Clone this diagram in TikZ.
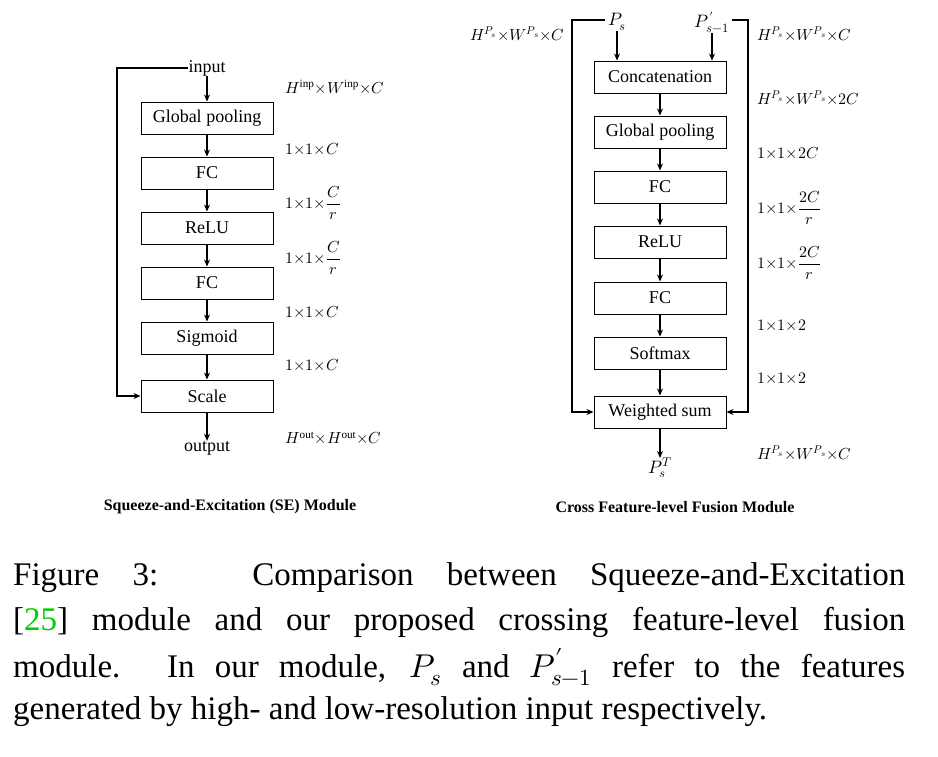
\documentclass[tikz,border=0pt]{standalone}
\usepackage{fontspec}
\setmainfont{Liberation Serif}
\usepackage{unicode-math}
\setmathfont{Latin Modern Math}
\usetikzlibrary{arrows.meta}
\begin{document}
\begin{tikzpicture}[x=1pt,y=-1pt,
  blk/.style={draw,line width=1pt,minimum width=132pt,minimum height=32pt,inner sep=0pt,font=\fontsize{18}{20}\selectfont},
  lbl/.style={font=\fontsize{18}{20}\selectfont,inner sep=0pt},
  dim/.style={anchor=west,inner sep=0pt,font=\fontsize{16}{18}\selectfont},
  capl/.style={anchor=west,inner sep=0pt,font=\fontsize{33}{40}\selectfont},
  arr/.style={-{Stealth[length=7pt,width=6pt]},line width=1.1pt}]
\useasboundingbox (0,0) rectangle (938,756);
% left module
\node[lbl] (in) at (207,68) {input};
\node[blk] (gp) at (207,118) {Global pooling};
\node[blk] (fc1) at (207,173) {FC};
\node[blk] (relu) at (207,228) {ReLU};
\node[blk] (fc2) at (207,283) {FC};
\node[blk] (sig) at (207,338) {Sigmoid};
\node[blk] (sc) at (207,396) {Scale};
\node[lbl] (out) at (207,448) {output};
\draw[arr] (in) -- (gp);
\draw[arr] (gp) -- (fc1);
\draw[arr] (fc1) -- (relu);
\draw[arr] (relu) -- (fc2);
\draw[arr] (fc2) -- (sig);
\draw[arr] (sig) -- (sc);
\draw[arr] (sc) -- (out);
\coordinate (l1) at (117,68);
\draw[arr] (in.west) -- (l1) |- (sc.west);
\node[dim] (d1) at (285,87) {$H^{\mathrm{inp}}{\times}W^{\mathrm{inp}}{\times}C$};
\node[dim] (d2) at (285,149) {$1{\times}1{\times}C$};
\node[dim] (d3) at (285,203) {$1{\times}1{\times}\displaystyle\frac{C}{r}$};
\node[dim] (d4) at (285,258) {$1{\times}1{\times}\displaystyle\frac{C}{r}$};
\node[dim] (d5) at (285,312) {$1{\times}1{\times}C$};
\node[dim] (d6) at (285,365) {$1{\times}1{\times}C$};
\node[dim] (d7) at (285,438) {$H^{\mathrm{out}}{\times}H^{\mathrm{out}}{\times}C$};
\node[font=\bfseries\fontsize{16}{18}\selectfont] (t1) at (230,507) {Squeeze-and-Excitation (SE) Module};
% right module
\node[lbl] (ps) at (617,22) {$P_s$};
\node[lbl] (ps1) at (712,22) {$P^{\prime}_{s-1}$};
\node[blk] (cat) at (660,77) {Concatenation};
\node[blk] (gp2) at (660,132) {Global pooling};
\node[blk] (rfc1) at (660,187) {FC};
\node[blk] (rrelu) at (660,242) {ReLU};
\node[blk] (rfc2) at (660,298) {FC};
\node[blk] (soft) at (660,353) {Softmax};
\node[blk] (ws) at (660,412) {Weighted sum};
\node[lbl] (pst) at (660,468) {$P_s^T$};
\draw[arr] (ps) -- (ps|-cat.north);
\draw[arr] (ps1) -- (ps1|-cat.north);
\draw[arr] (cat) -- (gp2);
\draw[arr] (gp2) -- (rfc1);
\draw[arr] (rfc1) -- (rrelu);
\draw[arr] (rrelu) -- (rfc2);
\draw[arr] (rfc2) -- (soft);
\draw[arr] (soft) -- (ws);
\draw[arr] (ws) -- (pst);
\coordinate (r1) at (572,20);
\coordinate (r2) at (748,20);
\draw[arr] (ps.west|-r1) ++(-3,0) -- (r1) |- (ws.west);
\draw[arr] (ps1.east|-r2) ++(3,0) -- (r2) |- (ws.east);
\node[dim] (e0) at (470,34) {$H^{P_s}{\times}W^{P_s}{\times}C$};
\node[dim] (e1) at (757,34) {$H^{P_s}{\times}W^{P_s}{\times}C$};
\node[dim] (e2) at (757,98) {$H^{P_s}{\times}W^{P_s}{\times}2C$};
\node[dim] (e3) at (757,153) {$1{\times}1{\times}2C$};
\node[dim] (e4) at (757,208) {$1{\times}1{\times}\displaystyle\frac{2C}{r}$};
\node[dim] (e5) at (757,263) {$1{\times}1{\times}\displaystyle\frac{2C}{r}$};
\node[dim] (e6) at (757,325) {$1{\times}1{\times}2$};
\node[dim] (e7) at (757,378) {$1{\times}1{\times}2$};
\node[dim] (e8) at (757,453) {$H^{P_s}{\times}W^{P_s}{\times}C$};
\node[font=\bfseries\fontsize{16}{18}\selectfont] (t2) at (675,507) {Cross Feature-level Fusion Module};
% caption
\node[capl] (c1) at (13,578) {\makebox[892pt][s]{Figure 3: \ Comparison between Squeeze-and-Excitation}};
\node[capl] (c2) at (13,622) {\makebox[892pt][s]{[\textcolor{green!80!black}{25}] module and our proposed crossing feature-level fusion}};
\node[capl] (c3) at (13,667) {\makebox[892pt][s]{module. In our module, $P_s$ and $P^{\prime}_{s-1}$ refer to the features}};
\node[capl] (c4) at (13,712) {generated by high- and low-resolution input respectively.};
\end{tikzpicture}
\end{document}
